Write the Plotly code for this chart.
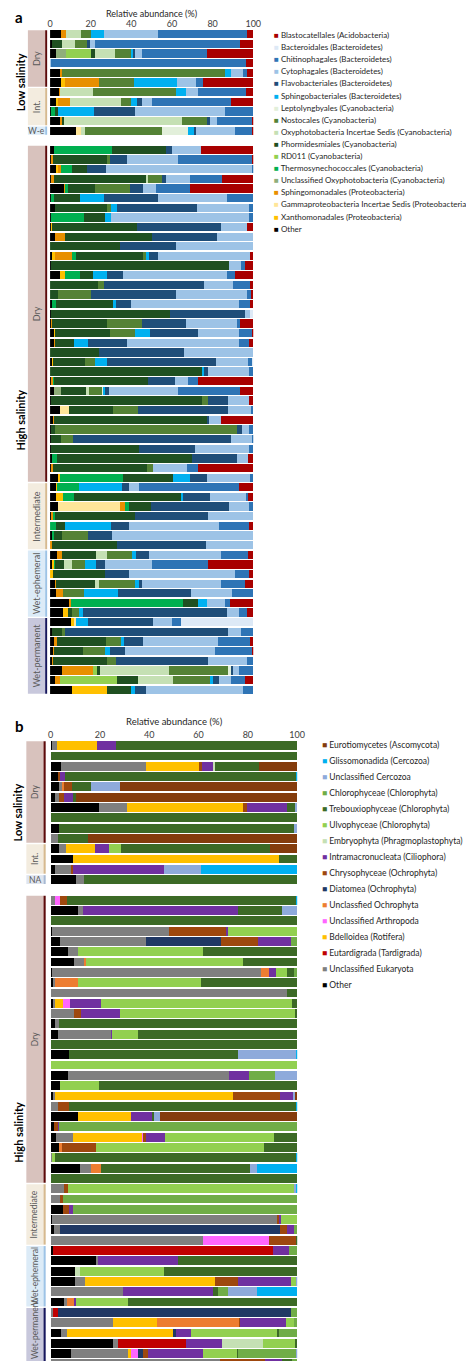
import plotly.graph_objects as go

W, H = 474, 1361
FONT = "Lato"

# ------------------------------------------------------------------
# Panel a - bacterial orders, relative abundance (%)
# key = sample number counted from the top row (1-11 low salinity, 12-68 high salinity)
# ------------------------------------------------------------------
a_other = {1: 5.3, 2: 1, 3: 3, 5: 4.8, 6: 5.5, 7: 4.5, 8: 3, 9: 0.5, 10: 5, 11: 13, 12: 2, 13: 0.5,
           14: 3, 15: 0.5, 16: 7, 17: 0.5, 18: 2.5, 19: 0.5, 20: 0.5, 21: 2.5, 23: 1, 24: 0.5, 25: 5,
           28: 1, 29: 0.5, 30: 0.5, 31: 2, 32: 2, 34: 1, 36: 0.5, 37: 2, 38: 0.5, 39: 5, 40: 1.5,
           41: 0.5, 42: 0.5, 43: 0.5, 44: 1, 45: 0.5, 46: 4, 47: 3, 48: 3, 49: 3.8, 50: 0.5, 52: 1,
           54: 3.5, 55: 1, 57: 2.5, 58: 3, 59: 9.8, 60: 6.5, 61: 10.5, 62: 1, 63: 2, 64: 1.5, 65: 1,
           66: 6, 67: 2.5, 68: 11}
a_xanthomonadales = {6: 2, 8: 1, 14: 1, 20: 0.5, 23: 1.5, 25: 2.5, 31: 0.5, 34: 0.5, 46: 1, 47: 0.5,
                     48: 3.5, 55: 1, 56: 1.5, 60: 2.5, 61: 1.5, 68: 17}
a_gammaproteobacteria_is = {11: 2, 39: 4.5, 49: 30.7, 61: 1}
a_sphingomonadales = {1: 2.7, 5: 1.2, 6: 16.5, 7: 0.5, 8: 6, 10: 1, 13: 1, 14: 1.5, 15: 1.5, 16: 0.5,
                      21: 5, 23: 8.5, 30: 0.5, 32: 0.5, 36: 1, 40: 0.5, 45: 1, 49: 2.5, 50: 1, 53: 1,
                      54: 2.3, 57: 0.5, 58: 3.5, 59: 0.7, 63: 1.5, 64: 0.5, 65: 0.5, 66: 15, 67: 2.5}
a_unclassified_oxyphotobacteria = {3: 5, 37: 3.5}
a_thermosynechococcales = {9: 2, 12: 28.4, 14: 5.5, 16: 1.5, 17: 1.5, 19: 16, 23: 2, 25: 7, 28: 2,
                           36: 0.5, 44: 2.5, 46: 30.7, 47: 10.5, 48: 5.5, 49: 2, 50: 1, 51: 3, 52: 1,
                           55: 0.5, 59: 55}
a_rd011 = {3: 12, 66: 2, 67: 28}
a_phormidesmiales = {2: 5, 3: 2, 9: 1.5, 10: 1, 12: 26.6, 13: 26.5, 14: 7, 15: 45, 16: 13, 17: 12.5,
                     18: 25.5, 19: 10.5, 20: 42, 21: 42.5, 22: 34.5, 23: 32.5, 24: 87.5, 25: 6.5,
                     26: 23.5, 27: 4, 28: 28, 29: 58.5, 30: 27, 31: 27, 32: 9.5, 33: 24, 34: 15.5,
                     35: 75, 36: 46, 37: 12, 38: 74.5, 39: 21.5, 40: 75, 41: 2, 42: 5, 43: 43.5,
                     44: 66.5, 45: 46, 46: 24.8, 48: 52.5, 49: 10.5, 50: 39.5, 51: 4.5, 52: 4, 53: 32,
                     54: 16.7, 55: 4.5, 56: 25.5, 57: 19, 59: 7.5, 60: 2, 62: 5, 63: 24, 64: 14,
                     65: 26.5, 66: 1.5, 67: 10.5, 68: 12}
a_oxyphotobacteria_is = {1: 7.2, 2: 6.5, 3: 10, 7: 16, 8: 25, 10: 58, 11: 2, 15: 1, 37: 1.5, 54: 5.5,
                         55: 4, 57: 2, 66: 34, 67: 17}
a_nostocales = {1: 4.8, 2: 5.5, 3: 8, 5: 80, 6: 17.5, 7: 41, 8: 5, 10: 12, 11: 38, 13: 1.5, 15: 7,
                16: 17.5, 18: 2, 23: 1.5, 26: 3, 27: 16, 30: 17, 31: 12.5, 34: 5, 37: 6.5, 38: 2.5,
                39: 12.5, 41: 89.5, 42: 6, 45: 3, 52: 12.5, 54: 12.5, 55: 6, 57: 18, 58: 10, 60: 3,
                62: 1.5, 63: 7.5, 64: 11, 65: 4.5, 66: 29, 67: 18}
a_leptolyngbyales = {11: 13, 37: 1, 66: 1.5}
a_sphingobacteriales = {1: 6.4, 3: 1, 5: 3, 6: 21, 7: 5, 8: 3, 9: 17.5, 11: 3, 17: 12, 18: 3, 19: 3,
                        23: 1.5, 25: 7, 28: 1.5, 31: 7, 32: 6.5, 34: 6, 35: 1, 37: 0.5, 46: 8.5,
                        47: 21.5, 48: 1, 51: 22.5, 54: 2, 55: 5.5, 57: 2, 58: 17, 59: 4, 60: 2,
                        61: 5.5, 63: 1.5, 64: 2.5, 67: 1.5, 68: 2}
a_flavobacteriales = {2: 1.5, 3: 1, 8: 2, 9: 20.5, 10: 1.5, 11: 1, 12: 3, 13: 8.5, 14: 9.5, 15: 2,
                      16: 6, 17: 26.5, 18: 39.5, 20: 41, 21: 32, 22: 27.5, 23: 4.5, 25: 8, 26: 49.5,
                      27: 42, 28: 7.5, 29: 37, 30: 22, 31: 24, 32: 19.5, 33: 42, 34: 53.5, 35: 1.5,
                      36: 13.5, 37: 2, 38: 10, 39: 44, 40: 1, 41: 2.5, 42: 77.5, 43: 27.5, 44: 22,
                      46: 8, 47: 3.5, 48: 13, 49: 38.5, 50: 35.5, 51: 9, 52: 12, 53: 43.5, 54: 6,
                      55: 4.5, 56: 12, 57: 1, 58: 36, 60: 71, 61: 32, 62: 80, 63: 9, 64: 7.5, 65: 45,
                      66: 1, 67: 3, 68: 5}
a_cytophagales = {1: 26.9, 2: 2.5, 3: 3, 4: 0.5, 5: 6, 6: 9.5, 7: 6, 8: 5, 9: 44, 10: 3.5, 11: 19,
                  12: 14.5, 13: 25, 14: 72, 15: 12, 16: 6.5, 17: 34, 18: 25.5, 19: 68, 20: 13, 21: 18,
                  22: 38, 23: 45.5, 24: 6, 25: 51, 26: 14, 27: 35, 28: 53, 29: 2.5, 30: 25, 31: 20,
                  32: 55, 33: 34, 34: 16, 35: 20.5, 36: 6.5, 37: 34, 38: 10.5, 39: 11.5, 40: 6,
                  41: 3.5, 42: 10.5, 43: 26.5, 44: 5.5, 45: 17, 46: 21.5, 47: 5, 48: 18, 49: 10,
                  50: 22.5, 51: 44, 52: 69.5, 53: 23.5, 54: 35.5, 55: 23, 56: 52, 57: 39, 58: 20,
                  59: 9, 60: 6, 61: 9.5, 62: 6.5, 63: 37, 64: 44, 65: 19.5, 66: 3, 67: 6, 68: 48}
a_chitinophagales = {1: 43.8, 2: 71.6, 3: 32, 4: 95.8, 5: 2, 6: 3.5, 7: 23.5, 8: 39, 9: 14, 10: 17.5,
                     11: 8.5, 13: 36.5, 14: 0.5, 15: 15.5, 16: 17, 17: 13, 18: 2, 19: 2, 24: 2, 25: 4,
                     26: 8.5, 27: 2, 28: 5.5, 30: 1.5, 31: 6.5, 32: 5, 34: 2, 35: 2, 36: 5, 37: 30.3,
                     39: 1, 41: 2, 42: 0.5, 43: 2, 45: 5.5, 46: 1.5, 47: 49, 48: 1, 49: 2, 51: 15,
                     54: 13.5, 55: 27.5, 56: 7, 57: 12, 58: 10.5, 59: 2.5, 60: 4, 61: 4.5, 62: 6,
                     63: 16, 64: 18.5, 65: 3, 66: 7, 67: 7, 68: 5}
a_bacteroidales = {29: 1.5, 34: 0.5, 61: 35.5}
a_blastocatellales = {1: 2.9, 2: 6.4, 3: 23, 4: 3.7, 5: 3, 6: 24.5, 7: 3.5, 8: 11, 10: 0.5, 11: 0.5,
                      12: 25.5, 13: 0.5, 15: 15.5, 16: 31, 20: 3, 23: 1.5, 24: 4, 25: 9, 26: 1.5,
                      27: 1, 28: 1.5, 30: 6.5, 31: 0.5, 32: 2, 36: 27, 37: 6.7, 38: 2, 40: 16,
                      44: 2.5, 45: 27, 47: 7, 48: 2.5, 51: 2, 54: 2.5, 55: 22.5, 56: 2, 57: 4,
                      59: 11.5, 60: 3, 63: 1.5, 64: 0.5, 67: 4}

# stacking order, left to right (legend lists it the other way round)
a_taxa = [
    ("Other", a_other),
    ("Xanthomonadales (Proteobacteria)", a_xanthomonadales),
    ("Gammaproteobacteria Incertae Sedis (Proteobacteria)", a_gammaproteobacteria_is),
    ("Sphingomonadales (Proteobacteria)", a_sphingomonadales),
    ("Unclassified Oxyphotobacteria (Cyanobacteria)", a_unclassified_oxyphotobacteria),
    ("Thermosynechococcales (Cyanobacteria)", a_thermosynechococcales),
    ("RD011 (Cyanobacteria)", a_rd011),
    ("Phormidesmiales (Cyanobacteria)", a_phormidesmiales),
    ("Oxyphotobacteria Incertae Sedis (Cyanobacteria)", a_oxyphotobacteria_is),
    ("Nostocales (Cyanobacteria)", a_nostocales),
    ("Leptolyngbyales (Cyanobacteria)", a_leptolyngbyales),
    ("Sphingobacteriales (Bacteroidetes)", a_sphingobacteriales),
    ("Flavobacteriales (Bacteroidetes)", a_flavobacteriales),
    ("Cytophagales (Bacteroidetes)", a_cytophagales),
    ("Chitinophagales (Bacteroidetes)", a_chitinophagales),
    ("Bacteroidales (Bacteroidetes)", a_bacteroidales),
    ("Blastocatellales (Acidobacteria)", a_blastocatellales),
]
a_colors = ["#000000", "#ffc000", "#ffe699", "#e88f00", "#8fae7a", "#00b050", "#92d050", "#1f5021",
            "#c5e0b4", "#548235", "#e2efda", "#00b0f0", "#1f4e79", "#9dc3e6", "#2e74b5", "#dde9f6",
            "#a80000"]

a_groups = [
    ("Low salinity", "Dry", 1, 6),
    ("Low salinity", "Int.", 7, 10),
    ("Low salinity", "W-e", 11, 11),
    ("High salinity", "Dry", 12, 46),
    ("High salinity", "Intermediate", 47, 53),
    ("High salinity", "Wet-ephemeral", 54, 60),
    ("High salinity", "Wet-permanent", 61, 68),
]

# ------------------------------------------------------------------
# Panel b - eukaryotes, relative abundance (%)
# samples 1-14 low salinity, 15-60 high salinity
# ------------------------------------------------------------------
b_other = {1: 0.5, 3: 4.3, 4: 3, 5: 3.5, 6: 2, 7: 19.5, 9: 3.3, 11: 3.5, 12: 9, 13: 2, 14: 10.5,
           16: 11, 18: 0.5, 19: 4, 20: 7, 21: 9.3, 22: 0.5, 23: 1, 25: 1, 27: 2, 28: 3, 30: 7.5,
           32: 7, 33: 4, 34: 1, 36: 11, 37: 1.5, 38: 2.3, 39: 3.5, 41: 11.8, 45: 5, 46: 0.5,
           47: 1.3, 49: 0.8, 50: 18.5, 51: 10, 52: 10, 54: 5.5, 57: 4.3, 58: 25.3, 59: 8.3}
b_unclassified_eukaryota = {1: 2, 3: 34.2, 5: 1, 6: 1.5, 7: 11.5, 10: 3, 11: 2.8, 13: 6.5, 14: 3,
                            15: 2, 16: 2, 18: 47.5, 19: 34.5, 20: 4, 21: 4.2, 22: 85, 23: 1, 24: 96,
                            25: 1, 26: 9.5, 27: 1.5, 28: 21.5, 32: 65.5, 34: 1, 35: 3, 38: 6.7,
                            40: 0.5, 41: 4.7, 43: 5.5, 44: 4, 46: 91.5, 47: 2.7, 48: 62, 50: 0.8,
                            52: 4, 53: 29.5, 54: 1, 55: 1, 56: 25.2, 57: 2.3, 58: 2.2, 59: 23.2,
                            60: 68.5}
b_eutardigrada = {49: 89.2, 55: 2, 58: 27.5}
b_bdelloidea = {1: 16.5, 3: 21.5, 7: 47, 11: 11.7, 12: 83.5, 25: 3, 34: 72, 36: 21.5, 38: 28,
                52: 52.5, 56: 17.8, 57: 42.9, 59: 1}
b_unclassified_arthropoda = {15: 2, 25: 3, 38: 0.5, 48: 26.5, 59: 3}
b_unclassified_ochrophyta = {5: 1, 21: 1, 22: 3, 23: 9, 39: 1, 41: 4, 54: 2.8, 56: 33.5}
b_diatomea = {19: 30.5, 47: 89, 55: 94.5, 57: 1.5, 59: 2}
b_chrysophyceae = {3: 1.5, 4: 1, 5: 3, 6: 1.8, 7: 1.5, 13: 0.5, 15: 2.5, 18: 23, 19: 15, 26: 3,
                   34: 19, 35: 4.5, 37: 1.5, 38: 1, 39: 14, 43: 1.5, 44: 1, 45: 2.5, 46: 0.5, 47: 3,
                   48: 11, 52: 9.5, 56: 0.5, 59: 2, 60: 18.5}
b_intramacronucleata = {1: 7.5, 3: 4.5, 4: 2, 6: 3.7, 7: 16.5, 11: 5.5, 13: 37, 16: 63, 18: 1,
                        19: 13.5, 22: 3, 25: 12.5, 26: 15.5, 28: 0.5, 32: 8, 34: 5.5, 36: 8.5,
                        37: 0.5, 38: 8, 45: 1.5, 46: 1, 47: 2.8, 49: 6.8, 50: 32.2, 52: 21.5,
                        53: 36.5, 54: 1.2, 56: 18.5, 57: 6, 58: 14.5, 59: 22.5, 60: 7}
b_embryophyta = {3: 0.5, 51: 2, 58: 16.5}
b_ulvophyceae = {11: 5, 18: 28, 20: 51, 21: 63.5, 22: 4.5, 23: 50, 25: 77.5, 26: 71, 28: 10.5,
                 31: 100, 33: 15.5, 38: 44, 39: 68, 40: 1.5, 43: 91.5, 46: 6.5, 51: 34, 52: 2,
                 54: 21, 56: 3, 57: 35, 58: 13, 59: 13.5}
b_trebouxiophyceae = {1: 73.5, 2: 100, 3: 18, 4: 93.7, 5: 8, 6: 1.5, 7: 3, 8: 100, 9: 95.2, 10: 12,
                      11: 60.5, 12: 7.5, 14: 86.5, 15: 93, 16: 18, 17: 100, 20: 38, 21: 22,
                      22: 2.5, 23: 39, 24: 4, 25: 2, 26: 1, 27: 96.5, 28: 64.5, 29: 100, 30: 68.5,
                      33: 80.5, 35: 92, 36: 1, 38: 9.5, 39: 13.5, 40: 97.5, 41: 60.5, 42: 100,
                      48: 0.5, 50: 48.5, 51: 54, 53: 2, 54: 68.5, 57: 0.5, 58: 1, 59: 0.5, 60: 4}
b_chlorophyceae = {19: 2.5, 22: 1.5, 32: 10.5, 37: 96.5, 44: 95, 45: 91, 47: 1.2, 49: 3.2, 53: 4,
                   55: 2.5, 56: 1.5, 57: 7.5, 59: 23.5, 60: 2}
b_unclassified_cercozoa = {5: 11.5, 7: 1, 9: 1.5, 13: 15, 16: 6, 30: 23.5, 32: 9, 34: 0.5, 36: 2.5,
                           41: 2.5, 43: 1, 52: 0.5, 53: 11.5, 59: 0.5}
b_glissomonadida = {4: 0.3, 13: 39, 15: 0.5, 30: 0.5, 35: 0.5, 40: 0.5, 41: 16.5, 43: 0.5, 53: 16.5}
b_eurotiomycetes = {3: 15.5, 5: 72, 6: 89.5, 10: 85, 11: 11, 34: 1, 36: 55.5}

b_taxa = [
    ("Other", b_other),
    ("Unclassified Eukaryota", b_unclassified_eukaryota),
    ("Eutardigrada (Tardigrada)", b_eutardigrada),
    ("Bdelloidea (Rotifera)", b_bdelloidea),
    ("Unclassified Arthropoda", b_unclassified_arthropoda),
    ("Unclassfied Ochrophyta", b_unclassified_ochrophyta),
    ("Diatomea (Ochrophyta)", b_diatomea),
    ("Chrysophyceae (Ochrophyta)", b_chrysophyceae),
    ("Intramacronucleata (Ciliophora)", b_intramacronucleata),
    ("Embryophyta (Phragmoplastophyta)", b_embryophyta),
    ("Ulvophyceae (Chlorophyta)", b_ulvophyceae),
    ("Trebouxiophyceae (Chlorophyta)", b_trebouxiophyceae),
    ("Chlorophyceae (Chlorophyta)", b_chlorophyceae),
    ("Unclassified Cercozoa", b_unclassified_cercozoa),
    ("Glissomonadida (Cercozoa)", b_glissomonadida),
    ("Eurotiomycetes (Ascomycota)", b_eurotiomycetes),
]
b_colors = ["#000000", "#7f7f7f", "#c00000", "#ffc000", "#ff66ff", "#ed7d31", "#203864", "#9e480e",
            "#7030a0", "#c5e0b4", "#92d050", "#3c6a26", "#70ad47", "#8eaadb", "#00b0f0", "#843c0c"]

b_groups = [
    ("Low salinity", "Dry", 1, 10),
    ("Low salinity", "Int.", 11, 13),
    ("Low salinity", "NA", 14, 14),
    ("High salinity", "Dry", 15, 42),
    ("High salinity", "Intermediate", 43, 48),
    ("High salinity", "Wet-ephemeral", 49, 54),
    ("High salinity", "Wet-permanent", 55, 60),
]

x_ticks = [0, 20, 40, 60, 80, 100]

# box fill / thin side line for each habitat group
GROUP_STYLE = {
    "Dry": ("#d8c2bd", "#5c0a0a"),
    "Int.": ("#f3ecdf", "#d6b98f"),
    "Intermediate": ("#f3ecdf", "#d6b98f"),
    "W-e": ("#dcebf7", "#9dc3e6"),
    "Wet-ephemeral": ("#dcebf7", "#9dc3e6"),
    "Wet-permanent": ("#c8c8dc", "#16165c"),
    "NA": ("#dfe5ef", "#a7b9d3"),
}


def py(p):
    """pixel row -> paper y"""
    return 1 - p / H


fig = go.Figure()


def draw_panel(taxa, colors, groups, n, n_low, xa, ya, box, line, sal_x, label_size):
    # leave one empty row between the low and the high salinity samples
    def slot(i):
        return i - 1 if i <= n_low else i

    samples = list(range(1, n + 1))
    slots = [slot(i) for i in samples]
    totals = [sum(d.get(i, 0) for _, d in taxa) for i in samples]

    for (name, d), col in zip(taxa, colors):
        vals = [100 * d.get(i, 0) / t for i, t in zip(samples, totals)]
        fig.add_trace(go.Bar(
            x=vals, y=slots, orientation="h", name=name,
            marker=dict(color=col, line=dict(width=0)),
            xaxis=xa, yaxis=ya, showlegend=False,
            hovertemplate="%{x:.1f}%<extra>" + name + "</extra>",
        ))

    yref = "y" if ya == "y" else "y2"
    for salinity, label, first, last in groups:
        fill, edge = GROUP_STYLE[label]
        y0, y1 = slot(first) - 0.5 + 0.07, slot(last) + 0.5 - 0.07
        fig.add_shape(type="rect", xref="paper", yref=yref, x0=box[0] / W, x1=box[1] / W,
                      y0=y0, y1=y1, fillcolor=fill, line_width=0, layer="below")
        fig.add_shape(type="rect", xref="paper", yref=yref, x0=line[0] / W, x1=line[1] / W,
                      y0=y0, y1=y1, fillcolor=edge, line_width=0, layer="below")
        short = first == last
        # the bottom group of the page sits on the edge: lift its label a little
        lift = 9 if (ya == "y2" and last == n) else 0
        fig.add_annotation(text=label, xref="paper", yref=yref,
                           x=(box[0] + box[1]) / 2 / W, y=(slot(first) + slot(last)) / 2,
                           xanchor="center", yanchor="middle", yshift=lift,
                           textangle=0 if short else -90, showarrow=False,
                           font=dict(size=8.5 if short else label_size, color="#595959"))

    # salinity labels across the whole block
    for salinity in ("Low salinity", "High salinity"):
        rows = [slot(i) for s, _, f, l in groups if s == salinity for i in (f, l)]
        fig.add_annotation(text="<b>" + salinity + "</b>", xref="paper", yref=yref,
                           x=sal_x / W, y=(min(rows) + max(rows)) / 2, textangle=-90,
                           xanchor="center", yanchor="middle",
                           showarrow=False, font=dict(size=11, color="#000000"))
    return slot(n)


last_a = draw_panel(a_taxa, a_colors, a_groups, 68, 11, "x", "y",
                    box=(17.3, 35.0), line=(35.0, 37.0), sal_x=10, label_size=9)
last_b = draw_panel(b_taxa, b_colors, b_groups, 60, 14, "x2", "y2",
                    box=(15.7, 33.3), line=(33.3, 35.5), sal_x=7, label_size=8.5)

axis_common = dict(range=[0, 100], side="top", tickvals=x_ticks, showgrid=False, zeroline=False,
                   showline=False, ticks="", tickfont=dict(size=9, color="#404040"),
                   fixedrange=True)

fig.update_layout(
    width=W, height=H,
    margin=dict(l=0, r=0, t=0, b=0),
    paper_bgcolor="white", plot_bgcolor="white",
    font=dict(family=FONT, color="#262626"),
    barmode="stack", bargap=0.14,
    xaxis=dict(domain=[40 / W, 248 / W], anchor="y", **axis_common),
    yaxis=dict(domain=[py(686.5), py(21.5)], range=[last_a + 0.5, -0.5], visible=False,
               anchor="x", fixedrange=True),
    xaxis2=dict(domain=[40.5 / W, 293 / W], anchor="y2", **axis_common),
    yaxis2=dict(domain=[0, py(732.5)], range=[last_b + 0.5, -0.5], visible=False,
                anchor="x2", fixedrange=True),
)

# panel letters and axis titles
fig.add_annotation(text="<b>a</b>", xref="paper", yref="paper", x=2 / W, y=py(-2),
                   xanchor="left", yanchor="top", showarrow=False, font=dict(size=15, color="#000"))
fig.add_annotation(text="<b>b</b>", xref="paper", yref="paper", x=2 / W, y=py(707),
                   xanchor="left", yanchor="top", showarrow=False, font=dict(size=15, color="#000"))
fig.add_annotation(text="Relative abundance (%)", xref="paper", yref="paper", x=144 / W, y=py(5.5),
                   xanchor="center", yanchor="middle",
                   showarrow=False, font=dict(size=9, color="#262626"))
fig.add_annotation(text="Relative abundance (%)", xref="paper", yref="paper", x=167 / W, y=py(713),
                   xanchor="center", yanchor="middle",
                   showarrow=False, font=dict(size=9.5, color="#262626"))


def draw_legend(taxa, colors, x_px, y0_px, dy_px, size):
    # legend lists the taxa in reverse of the stacking order
    for k, ((name, _), col) in enumerate(zip(taxa[::-1], colors[::-1])):
        fig.add_annotation(
            text=f'<span style="color:{col}">■</span> {name}',
            xref="paper", yref="paper", x=x_px / W, y=py(y0_px + k * dy_px),
            xanchor="left", yanchor="middle", showarrow=False,
            font=dict(size=size, color="#262626"))


draw_legend(a_taxa, a_colors, 267, 27, 12.1, 8)
draw_legend(b_taxa, b_colors, 316, 737, 16.0, 8.5)

fig.write_html("out.html")
